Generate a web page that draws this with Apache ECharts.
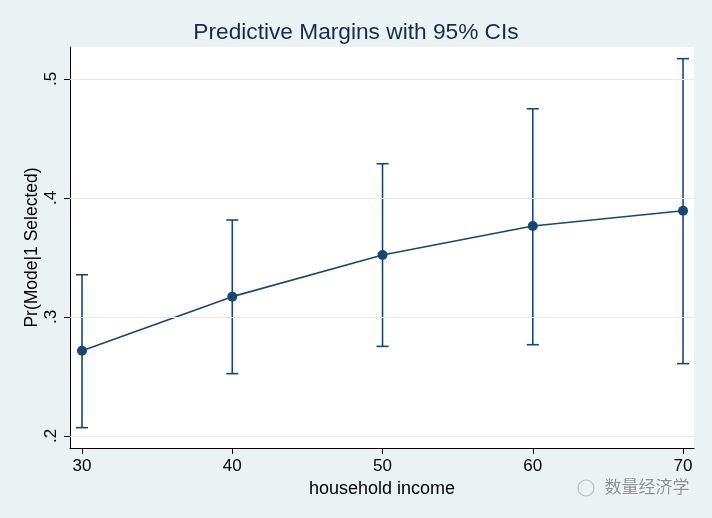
<!DOCTYPE html>
<html>
<head>
<meta charset="utf-8">
<script src="https://cdn.jsdelivr.net/npm/echarts@6/dist/echarts.min.js"></script>
<style>html,body{margin:0;padding:0;background:#eaf2f3;}#c{width:712px;height:518px;}</style>
</head>
<body>
<div id="c"></div>
<script>
const incomes = [30, 40, 50, 60, 70];
const margins = [0.2717, 0.3171, 0.3521, 0.3765, 0.3893];
const lowerCI = [0.2070, 0.2524, 0.2753, 0.2767, 0.2608];
const upperCI = [0.3355, 0.3815, 0.4288, 0.4750, 0.5171];
const xTicks = [30, 40, 50, 60, 70];
const yTicks = [0.2, 0.3, 0.4, 0.5];
const yTickLabels = ['.2', '.3', '.4', '.5'];

const navy = '#1a476f';
const textColor = '#1b2a4a';
const font = '"Liberation Sans", Arial, Helvetica, sans-serif';

const chart = echarts.init(document.getElementById('c'));
chart.setOption({
  backgroundColor: '#eaf2f3',
  animation: false,
  title: {
    text: 'Predictive Margins with 95% CIs',
    left: 'center', top: 16,
    textStyle: {fontFamily: font, fontSize: 22.7, fontWeight: 'normal', color: textColor}
  },
  grid: {left: 70, right: 18, top: 47, bottom: 70, show: true, backgroundColor: '#ffffff', borderWidth: 0},
  xAxis: {
    type: 'value', min: 29.2, max: 70.73,
    name: 'household income', nameLocation: 'middle', nameGap: 29,
    nameTextStyle: {fontFamily: font, fontSize: 18, color: '#000'},
    axisLine: {show: true, lineStyle: {color: '#000', width: 1}},
    axisTick: {show: true, customValues: xTicks, length: 6, lineStyle: {color: '#000'}},
    axisLabel: {customValues: xTicks, fontFamily: font, fontSize: 17, color: '#000', margin: 10},
    splitLine: {show: false}
  },
  yAxis: {
    type: 'value', min: 0.1899, max: 0.5269,
    name: 'Pr(Mode|1 Selected)', nameLocation: 'middle', nameGap: 29, nameRotate: 90,
    nameMoveOverlap: false,
    nameTextStyle: {fontFamily: font, fontSize: 17.5, color: '#000'},
    axisLine: {show: true, lineStyle: {color: '#000', width: 1}},
    axisTick: {show: true, customValues: yTicks, length: 6, lineStyle: {color: '#000'}},
    axisLabel: {
      customValues: yTicks, rotate: 90, fontFamily: font, fontSize: 17, color: '#000', margin: 10,
      formatter: v => { const i = yTicks.findIndex(t => Math.abs(t - v) < 1e-6); return i >= 0 ? yTickLabels[i] : ''; }
    },
    splitLine: {show: false}
  },
  series: [
    {
      type: 'line',
      data: [],
      markLine: {
        silent: true, symbol: 'none', label: {show: false},
        lineStyle: {color: '#e6ebed', type: 'solid', width: 1},
        data: yTicks.map(v => ({yAxis: v}))
      }
    },
    {
      type: 'custom',
      z: 3,
      data: incomes.map((x, i) => [x, lowerCI[i], upperCI[i]]),
      renderItem: (params, api) => {
        const x = api.value(0);
        const lo = api.coord([x, api.value(1)]);
        const hi = api.coord([x, api.value(2)]);
        const cap = 6;
        const st = {stroke: navy, lineWidth: 1.6};
        return {type: 'group', children: [
          {type: 'line', shape: {x1: lo[0], y1: lo[1], x2: hi[0], y2: hi[1]}, style: st},
          {type: 'line', shape: {x1: lo[0] - cap, y1: lo[1], x2: lo[0] + cap, y2: lo[1]}, style: st},
          {type: 'line', shape: {x1: hi[0] - cap, y1: hi[1], x2: hi[0] + cap, y2: hi[1]}, style: st}
        ]};
      }
    },
    {
      type: 'line',
      z: 4,
      data: incomes.map((x, i) => [x, margins[i]]),
      symbol: 'circle', symbolSize: 10,
      lineStyle: {color: navy, width: 1.6},
      itemStyle: {color: navy}
    }
  ],
  graphic: [
    {
      type: 'text', left: 604, top: 478,
      style: {text: '数量经济学', fontFamily: '"Noto Sans CJK SC", sans-serif', fontSize: 17, fill: '#8a8f93', stroke: '#ffffff', lineWidth: 1}
    },
    {
      type: 'circle', shape: {cx: 586, cy: 488, r: 8},
      style: {fill: 'none', stroke: '#b8bcc0', lineWidth: 1.2}
    }
  ]
});
</script>
</body>
</html>
